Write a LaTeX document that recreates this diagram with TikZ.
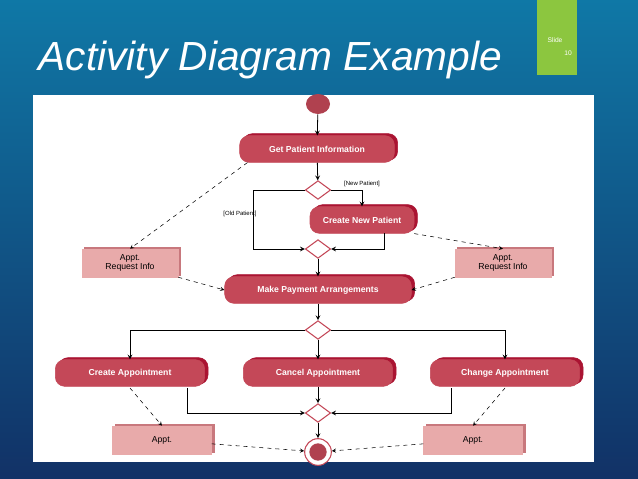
\documentclass[tikz,border=0pt]{standalone}
\usepackage{fontspec}
\setmainfont{Liberation Sans}
\usetikzlibrary{shapes.geometric, arrows, positioning}
\definecolor{actred}{RGB}{196,72,88}
\definecolor{actdark}{RGB}{170,20,50}
\definecolor{objpink}{RGB}{232,170,170}
\definecolor{objdark}{RGB}{200,120,125}
\definecolor{slidebg}{RGB}{22,62,128}
\definecolor{slidegreen}{RGB}{140,198,63}
\tikzstyle{activity} = [rectangle, rounded corners=7pt, minimum height=20pt, draw=actred, fill=actred, text=white, font=\bfseries\fontsize{6.5}{7}\selectfont,
  preaction={fill=actdark, draw=actdark, transform canvas={xshift=2.5pt, yshift=1.5pt}}]
\tikzstyle{object} = [rectangle, minimum height=21pt, draw=objpink, fill=objpink, align=center, font=\fontsize{6.5}{7}\selectfont,
  preaction={fill=objdark, draw=objdark, transform canvas={xshift=2pt, yshift=1.5pt}}]
\tikzstyle{decision} = [diamond, draw=actred, fill=white, thick, minimum width=19pt, minimum height=14pt, inner sep=0pt]
\tikzstyle{arrow} = [semithick,->,>=stealth]
\tikzstyle{flow} = [dashed,->,>=stealth]
\tikzstyle{guard} = [font=\fontsize{4.5}{5}\selectfont]

\begin{document}
\begin{tikzpicture}[x=0.75pt, y=-0.75pt]
      \useasboundingbox (0,0) rectangle (638,478);
      \shade[top color=slidebg!70!cyan, bottom color=slidebg!80!black] (0,0) rectangle (638,478);
      \fill[slidegreen] (537,0) rectangle (577,75);
      \node[text=white, font=\fontsize{5}{6}\selectfont] (slidelbl) at (555,40) {Slide};
      \node[text=white, font=\fontsize{5}{6}\selectfont] (slidenum) at (568,53) {10};
      \node[text=white, font=\itshape\fontsize{30.5}{34}\selectfont, anchor=west] (title) at (34,60) {Activity Diagram Example};
      \fill[white] (33,95) rectangle (594,462);

      \node (start) [ellipse, fill=actred!90!black, minimum width=18pt, minimum height=15pt] at (318,104) {};
      \node (getinfo) [activity, minimum width=116pt] at (317,149) {Get Patient Information};
      \node (split1) [decision] at (318,190) {};
      \node (newpat) [activity, minimum width=78pt] at (362,220) {Create New Patient};
      \node (merge1) [decision] at (318,249) {};
      \node (reqleft) [object, minimum width=72pt] at (130,263) {Appt.\\Request Info};
      \node (reqright) [object, minimum width=72pt] at (503,263) {Appt.\\Request Info};
      \node (payment) [activity, minimum width=140pt] at (318,290) {Make Payment Arrangements};
      \node (split2) [decision] at (318,330) {};
      \node (createappt) [activity, minimum width=112pt] at (130,373) {Create Appointment};
      \node (cancelappt) [activity, minimum width=112pt] at (318,373) {Cancel Appointment};
      \node (changeappt) [activity, minimum width=112pt] at (505,373) {Change Appointment};
      \node (merge2) [decision] at (318,413) {};
      \node (apptleft) [object, minimum width=74pt] at (162,440) {Appt.};
      \node (apptright) [object, minimum width=74pt] at (473,440) {Appt.};
      \node (stop) [circle, draw=actred, thick, fill=white, minimum size=20pt, inner sep=0pt] at (318,452) {};
      \fill[actred!90!black] (stop) circle (6.5pt);

      \node (newlbl) [guard] at (362,184) {[New Patient]};
      \node (oldlbl) [guard] at (240,214) {[Old Patient]};

      \draw [arrow] (start) -- (getinfo);
      \draw [arrow] (getinfo) -- (split1);
      \draw [arrow] (split1) -| (newpat);
      \draw [arrow] (split1) -| (253,249) -- (merge1);
      \draw [arrow] (384,233) |- (merge1);
      \draw [arrow] (merge1) -- (payment);
      \draw [arrow] (payment) -- (split2);
      \draw [arrow] (split2) -| (createappt);
      \draw [arrow] (split2) -- (cancelappt);
      \draw [arrow] (split2) -| (changeappt);
      \draw [arrow] (187,388) |- (merge2);
      \draw [arrow] (cancelappt) -- (merge2);
      \draw [arrow] (451,388) |- (merge2);
      \draw [arrow] (merge2) -- (stop);

      \draw [flow] (getinfo.south west) ++(6pt,0) -- (reqleft.north);
      \draw [flow] (reqleft.south east) -- (payment.west);
      \draw [flow] (newpat.south east) -- (reqright.north);
      \draw [flow] (reqright.south west) -- (payment.east);
      \draw [flow] (130,388) -- (apptleft.north);
      \draw [flow] (505,388) -- (apptright.north);
      \draw [flow] (apptleft) -- (stop);
      \draw [flow] (apptright) -- (stop);
    \end{tikzpicture}
\end{document}
